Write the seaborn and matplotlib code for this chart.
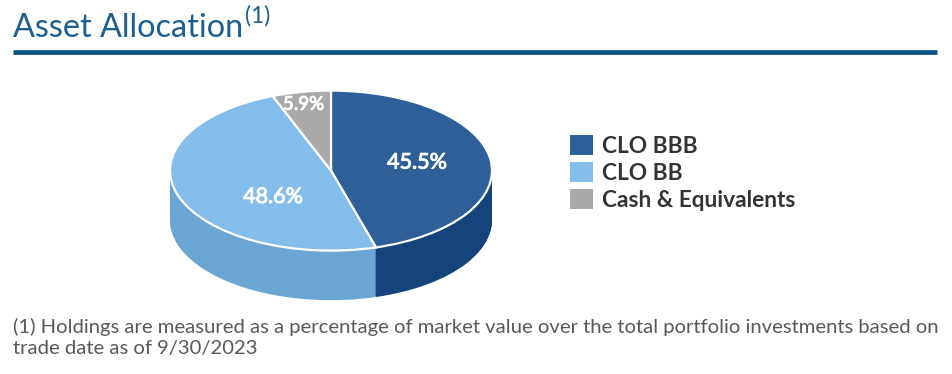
import numpy as np
import matplotlib
matplotlib.use("Agg")
import matplotlib.pyplot as plt
import matplotlib.patheffects as pe
import seaborn as sns
from matplotlib.patches import Patch

sns.set_theme(style="white")
plt.rcParams['font.family'] = ['Lato', 'DejaVu Sans']

# ---- data ----
categories = ["CLO BBB", "CLO BB", "Cash & Equivalents"]
values = [45.5, 48.6, 5.9]
labels = ["45.5%", "48.6%", "5.9%"]
title = "Asset Allocation"
footnote_lines = ["(1) Holdings are measured as a percentage of market value over the total portfolio investments based on",
                  "trade date as of 9/30/2023"]

# ---- styles ----
top_colors = ["#2d5f98", "#82bdec", "#a9a9a9"]
side_colors = ["#15447d", "#69a6d4", "#8a8a8a"]
depth = 0.62
label_pos = [(0.535, 0.10), (-0.36, -0.33), (-0.17, 0.83)]
label_size = [15.5, 15.5, 13.5]

W, H = 952, 374
fig = plt.figure(figsize=(W / 100, H / 100), dpi=100)
renderer = fig.canvas.get_renderer()


def fit_width(t, target_px):
    for _ in range(3):
        bb = t.get_window_extent(renderer)
        t.set_fontsize(t.get_fontsize() * target_px / bb.width)


# pie axes placed in pixels
cx, cy, a, b = 331, 170.6, 161, 80
xlim = (-1.1, 1.1)
ylim = (-1.9, 1.15)
left = cx + xlim[0] * a
top = cy - ylim[1] * b
wpx = (xlim[1] - xlim[0]) * a
hpx = (ylim[1] - ylim[0]) * b
ax = fig.add_axes([left / W, 1 - (top + hpx) / H, wpx / W, hpx / H])

# side wall (stacked layers)
for off in np.linspace(depth, 0.0, 60):
    ax.pie(values, startangle=90, counterclock=False, colors=side_colors,
           center=(0, -off), radius=1, wedgeprops=dict(linewidth=0, antialiased=True))

# top face
ax.pie(values, startangle=90, counterclock=False, colors=top_colors,
       center=(0, 0), radius=1, wedgeprops=dict(edgecolor="white", linewidth=1.6))

ax.set_aspect("auto")
ax.set_xlim(*xlim)
ax.set_ylim(*ylim)
ax.axis("off")

for (lx, ly), lab, fs in zip(label_pos, labels, label_size):
    ax.text(lx, ly, lab, color="white", fontsize=fs, ha="center", va="center",
            path_effects=[pe.withStroke(linewidth=0.7, foreground="white")])

# title
tt = fig.text(13 / W, 1 - 37 / H, title, fontsize=24, color="#1b5e8f", ha="left", va="baseline")
fit_width(tt, 230)
tbb = tt.get_window_extent(renderer)
fig.text((tbb.x1 + 2) / W, 1 - 23 / H, "(1)", fontsize=16.5, color="#1b5e8f",
         ha="left", va="baseline")
fig.add_artist(plt.Line2D([13 / W, 937 / W], [1 - 51.5 / H, 1 - 51.5 / H],
                          color="#0b5484", linewidth=3.4, solid_capstyle="butt"))

# legend
handles = [Patch(facecolor=c, edgecolor="none") for c in top_colors]
leg = fig.legend(handles, categories, loc="upper left",
                 bbox_to_anchor=(570 / W, 1 - 135 / H), frameon=False,
                 handlelength=1.0, handleheight=1.0, handletextpad=0.42,
                 labelspacing=0.22, borderpad=0, borderaxespad=0,
                 prop=dict(family="Lato", weight="bold", size=16.3))
for t in leg.get_texts():
    t.set_color("#333333")

# footnote
ft = []
for i, line in enumerate(footnote_lines):
    ft.append(fig.text(13 / W, 1 - (333 + 21 * i) / H, line, fontsize=14.3, color="#595959",
                       ha="left", va="baseline"))
fit_width(ft[0], 924)
ft[1].set_fontsize(ft[0].get_fontsize())

fig.savefig("out.png", dpi=100)
